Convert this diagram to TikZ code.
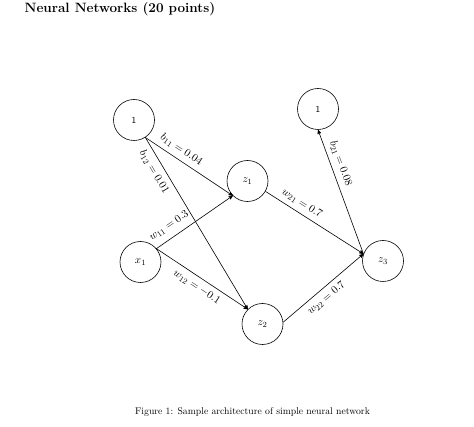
\documentclass[tikz,border=0pt]{standalone}
\usepackage{tikz}
\usetikzlibrary{arrows}

\tikzset{
  neuron/.style={draw,circle,minimum size=41pt,inner sep=0pt,font=\fontsize{11}{13}\selectfont},
  wlabel/.style={sloped,font=\fontsize{11}{13}\selectfont,inner sep=1pt}
}

\begin{document}
\begin{tikzpicture}[line cap=round,line join=round,>=stealth',x=1pt,y=-1pt,line width=0.6pt]
\useasboundingbox (0,0) rectangle (474,427);
% title and caption
\node[anchor=base west] (title) at (21,12.5) {\fontsize{13.5}{16}\selectfont\bfseries Neural Networks (20 points)};
\node[anchor=base] (caption) at (252.5,415) {\fontsize{9.7}{12}\selectfont Figure 1: Sample architecture of simple neural network};
%
\node[neuron] (b1) at (134,120) {\sffamily\small 1};
\node[neuron] (x1) at (140.5,262) {$x_1$};
\node[neuron] (z1) at (247.5,181) {$z_1$};
\node[neuron] (z2) at (262.5,324) {$z_2$};
\node[neuron] (b2) at (318,109) {\sffamily\small 1};
\node[neuron] (z3) at (383,261) {$z_3$};
%
\draw[->] (b1.-57) -- node[wlabel,pos=0.35,above=4pt] {$b_{11}=0.04$} (z1.225);
\draw[->] (b1.-57) -- node[wlabel,pos=0.17,below=4pt] {$b_{12}=0.01$} (z2.135);
\draw[->] (x1.40) -- node[wlabel,pos=0.25,above=6pt] {$w_{11}=0.3$} (z1.225);
\draw[->] (x1.40) -- node[wlabel,pos=0.5,below=4pt] {$w_{12}=-0.1$} (z2.135);
\draw[->] (z1.-30) -- node[wlabel,pos=0.32,above=4pt] {$w_{21}=0.7$} (z3.160);
\draw[->] (z2.5) -- node[wlabel,pos=0.46,below=4pt] {$w_{22}=0.7$} (z3.160);
\draw[->] (z3.160) -- node[wlabel,pos=0.7,above=4pt] {$b_{21}=0.08$} (b2.south);
\end{tikzpicture}
\end{document}
